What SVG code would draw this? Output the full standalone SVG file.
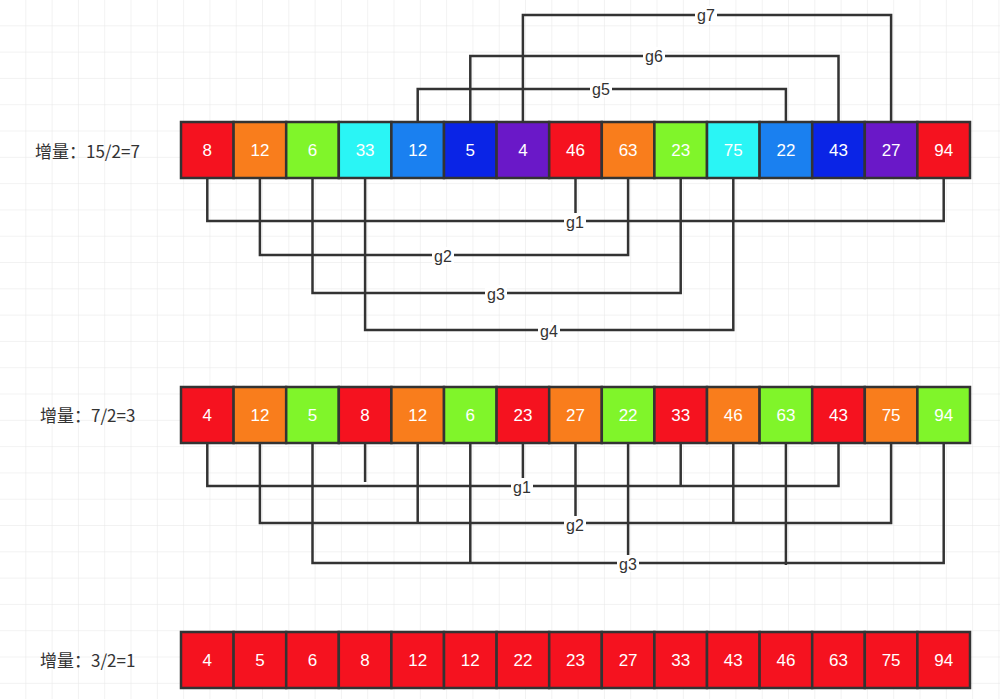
<svg xmlns="http://www.w3.org/2000/svg" width="1000" height="699" viewBox="0 0 1000 699">
<defs>
<pattern id="grid" width="26.3" height="26.3" patternUnits="userSpaceOnUse" x="0" y="0"><path d="M26.3 0V26.3H0" fill="none" stroke="#e6e6e6" stroke-width="1"/></pattern>
<style>
.c rect{stroke:#333;stroke-width:2.5}
.c text{font-family:"Liberation Sans",Arial,sans-serif;font-size:17px;fill:#fff;text-anchor:middle}
.lbl{font-family:"Noto Sans CJK SC","Liberation Sans",sans-serif;font-size:17px;fill:#333}
.w{fill:none;stroke:#333;stroke-width:2.5}
.g{font-family:"Liberation Sans",Arial,sans-serif;font-size:16px;fill:#333;text-anchor:middle}
.R{fill:#f5121f}.O{fill:#f97d1c}.G{fill:#80f52a}.C{fill:#2af5f5}.B{fill:#1a80f0}.D{fill:#0a24e6}.P{fill:#6a18c8}
</style>
</defs>
<rect width="1000" height="699" fill="#fff"/>
<rect width="1000" height="699" fill="url(#grid)"/>
<g id="connectors">
<path class="w" d="M417.7 122V89H785.9V122M470.3 122V56H838.5V122M522.9 122V15H891.1V122"/>
<path class="w" d="M207.3 178V221H943.7V178M575.5 178V221M259.9 178V255H628.1V178M312.5 178V293H680.7V178M365.1 178V330H733.3V178"/>
<path class="w" d="M207.3 443V486H838.5V443M365.1 443V482M522.9 443V486M680.7 443V486"/>
<path class="w" d="M259.9 443V523H891.1V443M417.7 443V523M575.5 443V523M733.3 443V523"/>
<path class="w" d="M312.5 443V563H943.7V443M470.3 443V563M628.1 443V563M785.9 443V565"/>
<g class="g">
<rect x="695" y="6" width="22" height="17" fill="#fff"/><text x="706" y="21">g7</text>
<rect x="643" y="47" width="22" height="17" fill="#fff"/><text x="654" y="62">g6</text>
<rect x="590" y="80" width="22" height="17" fill="#fff"/><text x="601" y="95">g5</text>
<rect x="564" y="213" width="22" height="17" fill="#fff"/><text x="575" y="228">g1</text>
<rect x="432" y="247" width="22" height="17" fill="#fff"/><text x="443" y="262">g2</text>
<rect x="485" y="285" width="22" height="17" fill="#fff"/><text x="496" y="300">g3</text>
<rect x="538" y="322" width="22" height="17" fill="#fff"/><text x="549" y="337">g4</text>
<rect x="511" y="478" width="22" height="17" fill="#fff"/><text x="522" y="493">g1</text>
<rect x="564" y="516" width="22" height="17" fill="#fff"/><text x="575" y="531">g2</text>
<rect x="617" y="555" width="22" height="17" fill="#fff"/><text x="628" y="570">g3</text>
</g>
</g>
<text class="lbl" x="35" y="158">增量：15/2=7</text>
<text class="lbl" x="40" y="422">增量：7/2=3</text>
<text class="lbl" x="40" y="667">增量：3/2=1</text>
<g id="row1" class="c">
<rect class="R" x="181" y="122" width="52.6" height="56"/><text x="207.3" y="156">8</text>
<rect class="O" x="233.6" y="122" width="52.6" height="56"/><text x="259.9" y="156">12</text>
<rect class="G" x="286.2" y="122" width="52.6" height="56"/><text x="312.5" y="156">6</text>
<rect class="C" x="338.8" y="122" width="52.6" height="56"/><text x="365.1" y="156">33</text>
<rect class="B" x="391.4" y="122" width="52.6" height="56"/><text x="417.7" y="156">12</text>
<rect class="D" x="444" y="122" width="52.6" height="56"/><text x="470.3" y="156">5</text>
<rect class="P" x="496.6" y="122" width="52.6" height="56"/><text x="522.9" y="156">4</text>
<rect class="R" x="549.2" y="122" width="52.6" height="56"/><text x="575.5" y="156">46</text>
<rect class="O" x="601.8" y="122" width="52.6" height="56"/><text x="628.1" y="156">63</text>
<rect class="G" x="654.4" y="122" width="52.6" height="56"/><text x="680.7" y="156">23</text>
<rect class="C" x="707" y="122" width="52.6" height="56"/><text x="733.3" y="156">75</text>
<rect class="B" x="759.6" y="122" width="52.6" height="56"/><text x="785.9" y="156">22</text>
<rect class="D" x="812.2" y="122" width="52.6" height="56"/><text x="838.5" y="156">43</text>
<rect class="P" x="864.8" y="122" width="52.6" height="56"/><text x="891.1" y="156">27</text>
<rect class="R" x="917.4" y="122" width="52.6" height="56"/><text x="943.7" y="156">94</text>
</g>
<g id="row2" class="c">
<rect class="R" x="181" y="387" width="52.6" height="56"/><text x="207.3" y="421">4</text>
<rect class="O" x="233.6" y="387" width="52.6" height="56"/><text x="259.9" y="421">12</text>
<rect class="G" x="286.2" y="387" width="52.6" height="56"/><text x="312.5" y="421">5</text>
<rect class="R" x="338.8" y="387" width="52.6" height="56"/><text x="365.1" y="421">8</text>
<rect class="O" x="391.4" y="387" width="52.6" height="56"/><text x="417.7" y="421">12</text>
<rect class="G" x="444" y="387" width="52.6" height="56"/><text x="470.3" y="421">6</text>
<rect class="R" x="496.6" y="387" width="52.6" height="56"/><text x="522.9" y="421">23</text>
<rect class="O" x="549.2" y="387" width="52.6" height="56"/><text x="575.5" y="421">27</text>
<rect class="G" x="601.8" y="387" width="52.6" height="56"/><text x="628.1" y="421">22</text>
<rect class="R" x="654.4" y="387" width="52.6" height="56"/><text x="680.7" y="421">33</text>
<rect class="O" x="707" y="387" width="52.6" height="56"/><text x="733.3" y="421">46</text>
<rect class="G" x="759.6" y="387" width="52.6" height="56"/><text x="785.9" y="421">63</text>
<rect class="R" x="812.2" y="387" width="52.6" height="56"/><text x="838.5" y="421">43</text>
<rect class="O" x="864.8" y="387" width="52.6" height="56"/><text x="891.1" y="421">75</text>
<rect class="G" x="917.4" y="387" width="52.6" height="56"/><text x="943.7" y="421">94</text>
</g>
<g id="row3" class="c">
<rect class="R" x="181" y="632" width="52.6" height="56"/><text x="207.3" y="666">4</text>
<rect class="R" x="233.6" y="632" width="52.6" height="56"/><text x="259.9" y="666">5</text>
<rect class="R" x="286.2" y="632" width="52.6" height="56"/><text x="312.5" y="666">6</text>
<rect class="R" x="338.8" y="632" width="52.6" height="56"/><text x="365.1" y="666">8</text>
<rect class="R" x="391.4" y="632" width="52.6" height="56"/><text x="417.7" y="666">12</text>
<rect class="R" x="444" y="632" width="52.6" height="56"/><text x="470.3" y="666">12</text>
<rect class="R" x="496.6" y="632" width="52.6" height="56"/><text x="522.9" y="666">22</text>
<rect class="R" x="549.2" y="632" width="52.6" height="56"/><text x="575.5" y="666">23</text>
<rect class="R" x="601.8" y="632" width="52.6" height="56"/><text x="628.1" y="666">27</text>
<rect class="R" x="654.4" y="632" width="52.6" height="56"/><text x="680.7" y="666">33</text>
<rect class="R" x="707" y="632" width="52.6" height="56"/><text x="733.3" y="666">43</text>
<rect class="R" x="759.6" y="632" width="52.6" height="56"/><text x="785.9" y="666">46</text>
<rect class="R" x="812.2" y="632" width="52.6" height="56"/><text x="838.5" y="666">63</text>
<rect class="R" x="864.8" y="632" width="52.6" height="56"/><text x="891.1" y="666">75</text>
<rect class="R" x="917.4" y="632" width="52.6" height="56"/><text x="943.7" y="666">94</text>
</g>
</svg>
